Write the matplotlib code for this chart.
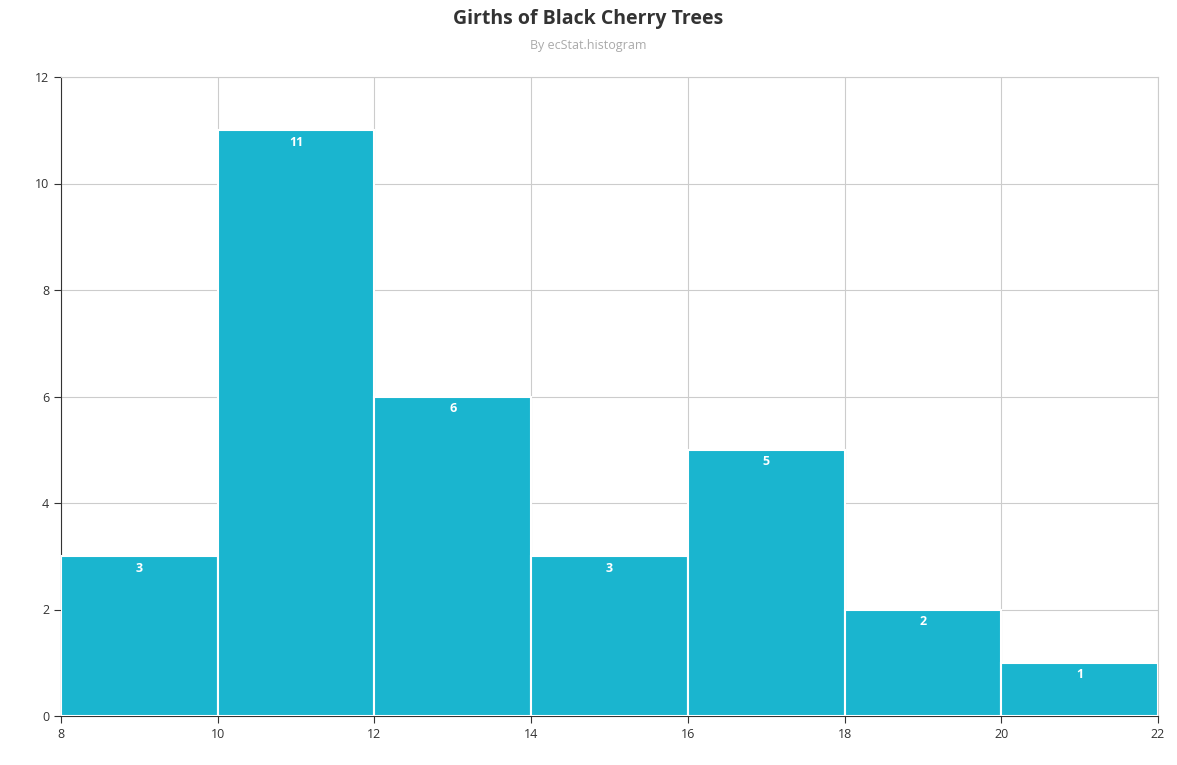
import matplotlib.pyplot as plt

BIN_EDGES = [8, 10, 12, 14, 16, 18, 20, 22]
COUNTS = [3, 11, 6, 3, 5, 2, 1]
BAR_COLOR = "#1ab5cf"


def main():
    plt.rcParams["font.family"] = ["Open Sans", "DejaVu Sans"]
    fig = plt.figure(figsize=(11.77, 7.65), dpi=100)
    ax = fig.add_axes([61 / 1177, 49 / 765, 1097 / 1177, 639 / 765])

    lefts = BIN_EDGES[:-1]
    widths = [b - a for a, b in zip(BIN_EDGES[:-1], BIN_EDGES[1:])]
    bars = ax.bar(lefts, COUNTS, width=widths, align="edge", color=BAR_COLOR,
                  edgecolor="white", linewidth=1.5, zorder=3)
    for rect, c in zip(bars, COUNTS):
        ax.text(rect.get_x() + rect.get_width() / 2, c - 0.1, str(c),
                ha="center", va="top", color="white", fontsize=9,
                fontweight="bold", zorder=4)

    ax.set_xlim(8, 22)
    ax.set_ylim(0, 12)
    ax.set_xticks(BIN_EDGES)
    ax.set_yticks(range(0, 13, 2))
    ax.grid(True, color="#cccccc", linewidth=0.8, zorder=0)
    for side in ("top", "right"):
        ax.spines[side].set_color("#cccccc")
    for side in ("left", "bottom"):
        ax.spines[side].set_color("#333333")
    ax.tick_params(colors="#333333", labelsize=9, length=5)

    fig.text(0.5, 1 - 19 / 765, "Girths of Black Cherry Trees", ha="center",
             va="center", fontsize=14, fontweight="bold", color="#333333")
    fig.text(0.5, 1 - 45 / 765, "By ecStat.histogram", ha="center",
             va="center", fontsize=9, color="#aaaaaa")

    fig.savefig("out.png", dpi=100)


if __name__ == "__main__":
    main()
